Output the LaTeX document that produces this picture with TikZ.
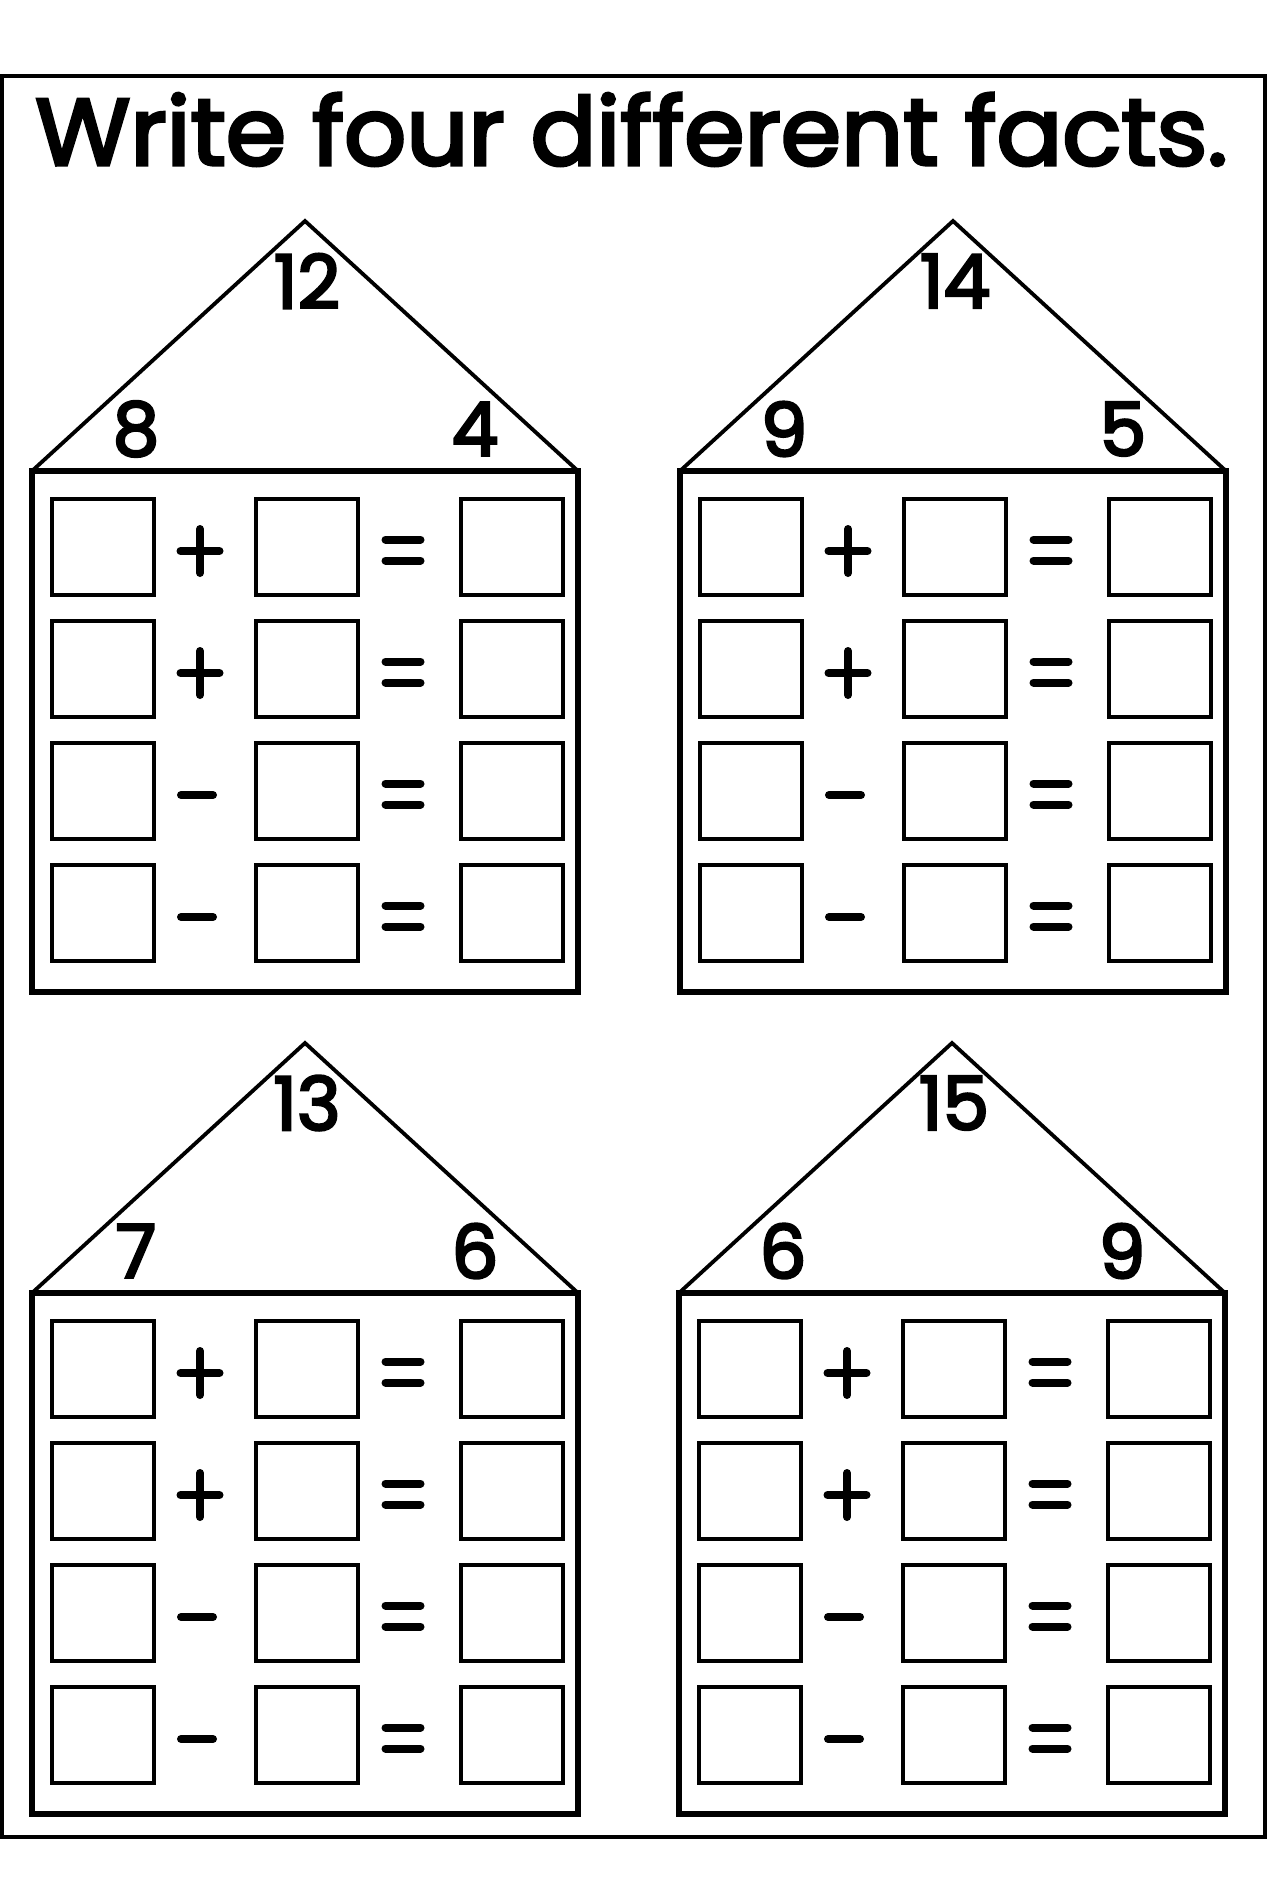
\documentclass[tikz,border=0pt]{standalone}
\usepackage{fontspec}
\setmainfont{Poppins}
\newfontfamily\heavyfont{Poppins}[FakeBold=3.5]
\begin{document}
\begin{tikzpicture}[x=0.5pt,y=-0.5pt,
  frame/.style={line width=1.6pt, draw=black},
  housebody/.style={line width=2.6pt, draw=black, line join=miter},
  roof/.style={line width=1.9pt, draw=black, line join=miter},
  ansbox/.style={line width=1.9pt, draw=black},
  op/.style={line width=4pt, line cap=round},
  num/.style={font=\heavyfont\fontsize{37}{40}\selectfont, inner sep=0pt}]
\useasboundingbox (0,0) rectangle (1269,1900);
\draw[frame] (2,76) rectangle (1265,1837);
\node[anchor=base west, inner sep=0pt] (title) at (35,165) {\resizebox{596pt}{36pt}{\heavyfont Write four different facts.}};
\foreach \X/\Y/\T/\L/\R [count=\i] in {32/471/12/8/4, 680/471/14/9/5, 32/1293/13/7/6, 679/1293/15/6/9} {
  \begin{scope}[shift={(\X,\Y)}]
    \draw[roof] (0,0) -- (273,-250) -- (546,0);
    \draw[housebody] (0,0) rectangle (546,521);
    \node[num] (top\i) at (275,-190) {\T};
    \node[num] (left\i) at (104,-42) {\L};
    \node[num] (right\i) at (443,-42) {\R};
    \foreach \r in {0,1,2,3} {
      \foreach \c in {20,224,429} {
        \draw[ansbox] (\c,28+122*\r) rectangle ++(102,96);
      }
      \pgfmathsetmacro\cy{79+122*\r}
      \draw[op] (353.5,\cy-10.5) -- (388.5,\cy-10.5) (353.5,\cy+10.5) -- (388.5,\cy+10.5);
    }
    \foreach \r in {0,1} {
      \pgfmathsetmacro\cy{80+122*\r}
      \draw[op] (148.5,\cy) -- (187.5,\cy) (168,\cy-22) -- (168,\cy+22);
    }
    \foreach \r in {2,3} {
      \pgfmathsetmacro\cy{80+122*\r}
      \draw[op] (149,\cy) -- (181,\cy);
    }
  \end{scope}
}
\end{tikzpicture}
\end{document}
